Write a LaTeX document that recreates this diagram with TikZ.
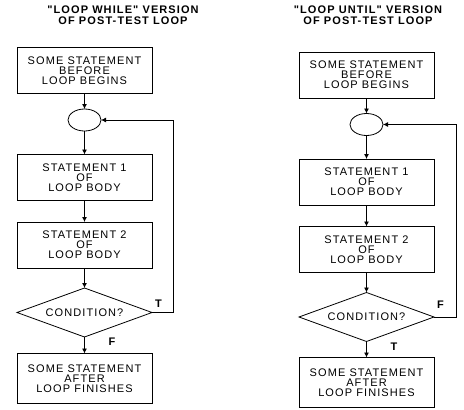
\documentclass[tikz,border=0pt]{standalone}
\usepackage{fontspec}
\usepackage{tikz}
\usetikzlibrary{
arrows.meta,
positioning,
shapes.geometric
}
\newfontfamily\flowfont{Liberation Sans}[LetterSpace=10]
\newfontfamily\flowbold{Liberation Sans Bold}[LetterSpace=10]

\begin{document}
\begin{tikzpicture}[
x=1pt,y=1pt,
font=\flowfont\fontsize{11}{10}\selectfont,
box/.style={
rectangle,
draw,
line width=0.8pt,
minimum width=135pt,
minimum height=46pt,
inner sep=0pt,
outer sep=0pt,
align=center
},
junction/.style={
ellipse,
draw,
line width=0.8pt,
minimum width=33pt,
minimum height=22pt,
inner sep=0pt,
outer sep=0pt
},
test/.style={
diamond,
draw,
line width=0.8pt,
aspect=2.75,
minimum width=135pt,
minimum height=49pt,
inner sep=0pt,
outer sep=0pt
},
heading/.style={
align=center,
font=\flowbold\fontsize{11}{10.5}\selectfont
},
tflabel/.style={
font=\flowbold\fontsize{11}{10.5}\selectfont,
inner sep=0pt
},
arrow/.style={-{Latex[length=5pt,width=5pt]},line width=0.8pt}
]
\useasboundingbox (0,0) rectangle (464,-410);

% loop while
\node[heading] (wtitle) at (123,-15) {"LOOP WHILE" VERSION\\OF POST-TEST LOOP};

\node[box, anchor=north] (wbefore) at (84.5,-47.5)
{SOME STATEMENT\\BEFORE\\LOOP BEGINS};

\node[junction, below=15.5pt of wbefore] (wjoin) {};

\node[box, below=23.5pt of wjoin] (wbody1)
{STATEMENT 1\\OF\\LOOP BODY};

\node[box, below=21.5pt of wbody1] (wbody2)
{STATEMENT 2\\OF\\LOOP BODY};

\node[test, below=20pt of wbody2] (wcond) {CONDITION?};

\node[box, minimum height=50pt, below=16.5pt of wcond] (wafter)
{SOME STATEMENT\\AFTER\\LOOP FINISHES};

\draw[arrow] (wbefore) -- (wjoin);
\draw[arrow] (wjoin) -- (wbody1);
\draw[arrow] (wbody1) -- (wbody2);
\draw[arrow] (wbody2) -- (wcond);
\draw[arrow] (wcond) -- (wafter);
\draw[arrow] (wcond.east) -- ++(21,0) |- (wjoin.east);

\node[tflabel, above right=5pt and 3pt of wcond.east] (wtrue) {T};
\node[tflabel, below right=1pt and 24pt of wcond.south] (wfalse) {F};

% loop until
\node[heading] (utitle) at (368,-15) {"LOOP UNTIL" VERSION\\OF POST-TEST LOOP};

\node[box, anchor=north] (ubefore) at (366.5,-52)
{SOME STATEMENT\\BEFORE\\LOOP BEGINS};

\node[junction, below=15.5pt of ubefore] (ujoin) {};

\node[box, below=23.5pt of ujoin] (ubody1)
{STATEMENT 1\\OF\\LOOP BODY};

\node[box, below=21.5pt of ubody1] (ubody2)
{STATEMENT 2\\OF\\LOOP BODY};

\node[test, below=20pt of ubody2] (ucond) {CONDITION?};

\node[box, minimum height=50pt, below=16pt of ucond] (uafter)
{SOME STATEMENT\\AFTER\\LOOP FINISHES};

\draw[arrow] (ubefore) -- (ujoin);
\draw[arrow] (ujoin) -- (ubody1);
\draw[arrow] (ubody1) -- (ubody2);
\draw[arrow] (ubody2) -- (ucond);
\draw[arrow] (ucond) -- (uafter);
\draw[arrow] (ucond.east) -- ++(22,0) |- (ujoin.east);

\node[tflabel, above right=8pt and 3pt of ucond.east] (ufalse) {F};
\node[tflabel, below right=1pt and 24pt of ucond.south] (utrue) {T};

\end{tikzpicture}
\end{document}
